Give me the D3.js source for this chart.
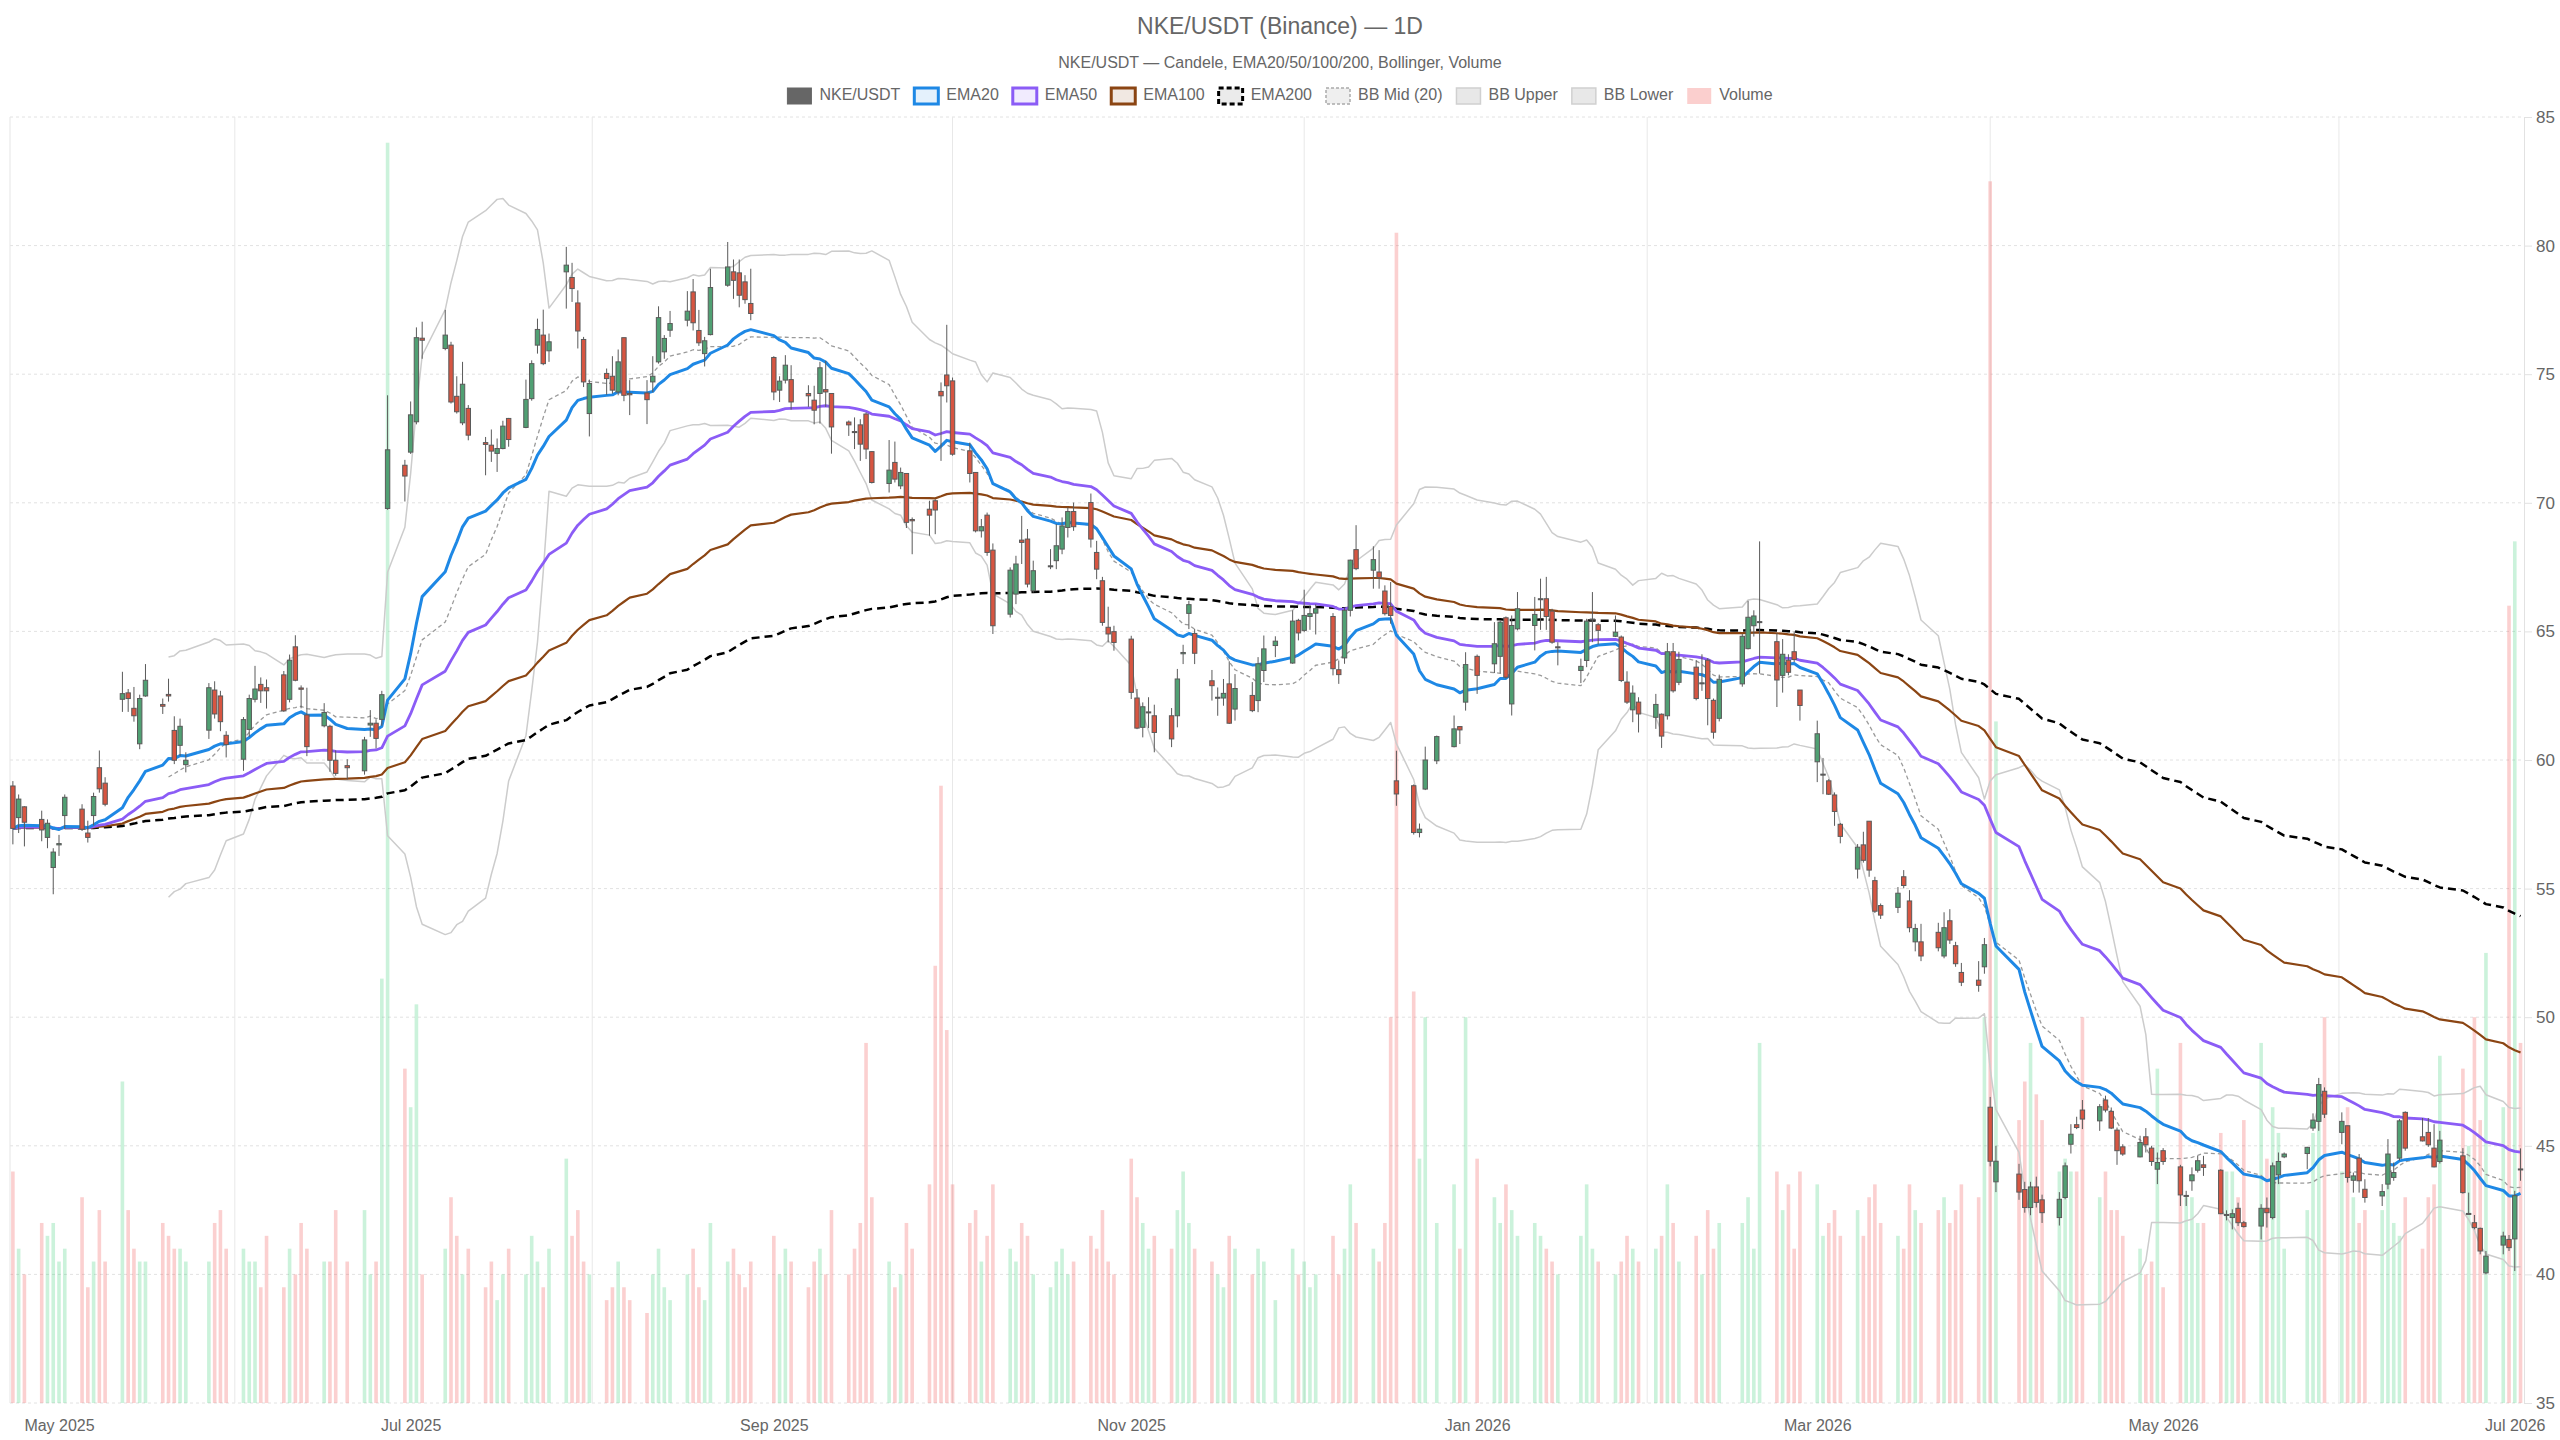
<!DOCTYPE html>
<html>
<head>
<meta charset="utf-8">
<script src="https://cdn.jsdelivr.net/npm/d3@7"></script>
<style>
  body { margin: 0; background: #fff; }
  svg { font-family: "Helvetica Neue", Helvetica, Arial, "Liberation Sans", sans-serif; }
</style>
</head>
<body>
<svg id="chart" width="2560" height="1440"></svg>
<script>

// trading days: weekdays from firstDay to lastDay, minus these holidays
var firstDay = "2025-04-23", lastDay = "2026-07-02";
var holidays = ["2025-05-26","2025-06-19","2025-07-04","2025-09-01","2025-11-27","2025-12-25",
  "2026-01-01","2026-01-19","2026-02-16","2026-04-03","2026-05-25","2026-06-19"];

var opens = [
58.99,57.76,58.18, 57.69,56.99,55.82,56.7,57.84, 58.09,57.16,57.84,59.70,59.10, 62.36,62.61,62.01,60.63,62.49,
62.16,62.55,61.15,60.57,59.82, 61.16,62.72,62.49,60.96, 60.03,61.19,62.36,62.94,62.81, 63.31,62.36,64.40,62.8,61.75,
61.33,61.31,59.99,59.78, 59.58,61.36,61.43,61.58,69.78, 71.46,71.97,73.15,76.40, 76.0,76.13,74.14,73.11,73.67,
72.34,72.24,71.92,72.11,73.28, 72.93,74.05,76.13,76.52,75.91, 78.98,78.76,77.77,76.35,73.47, 75.03,74.92,74.31,76.42,74.25,
74.27,74.70,75.48,75.87,76.71, 77.1,78.2,76.7,75.8,76.54, 78.46,78.98,78.94,78.59,77.75, 75.65,74.38,74.77,74.79,
74.25,73.99,74.25,74.40,74.25, 73.14,72.77,73.03,73.45,71.99, 70.75,71.57,70.66,71.14,69.35, 69.75,70.08,74.33,74.97,74.74,
72.02,71.18,68.91,69.52,68.16, 65.67,66.45,68.55,68.59,66.58, 67.55,67.75,68.2,69.04,69.66, 70.01,68.07,66.97,65.16,64.99,
64.70,62.41,61.27,61.87,61.72, 61.72,61.72,64.13,65.70,64.92, 63.08,62.44,62.41,62.96,61.98, 62.51,62.31,63.48,64.45,
63.77,65.43,65.04,65.58,65.71, 65.58,63.51,63.97,65.82,68.18, 67.38,67.31,66.57,65.97,59.19, 59.0,57.18,58.87,59.97,
60.52,61.30,62.25,64.03, 63.74,64.03,65.53,62.18,65.10, 65.23,66.27,66.27,65.79,64.40, 63.48,63.87,65.48,65.26,
64.81,64.78,63.03,61.95,62.25, 61.66,61.78,61.72,64.21,63.02, 63.61,63.0,63.88,62.32,61.62, 62.96,64.33,65.22,65.38,
64.60,63.29,63.88,64.21,62.72, 59.93,59.45,59.19,58.64,57.50, 55.76,56.70,57.62,55.31,54.34, 54.27,55.46,54.52,52.93,52.93,
53.30,52.38,53.75,52.78,51.74, 51.44,51.96,46.5,43.6, 43.9,43.3,42.6,43.4,42.9,
42.21,42.99,45.06,45.82,46.39, 45.97,46.78,46.34,45.61,44.96, 44.57,45.35,44.91,44.09,44.81, 44.18,43.07,43.64,44.05,44.26,
44.05,42.33,42.21,42.57,42.01, 41.88,42.57,42.21,43.87,44.57, 44.70,45.69,45.95,47.12, 45.52,45.78,43.66,44.52,43.31,
43.05,43.51,43.77,44.52,46.30, 45.35,45.52,44.91,44.39, 44.61,42.37,42.01,41.79,40.06, 41.14,41.36,41.38,44.1
];
var highs = [
59.18,58.66,58.2, 58.03,57.69,56.57,57.09,58.66, 58.28,57.64,58.73,60.37,59.33, 63.43,62.76,62.84,62.54,63.73,
62.39,63.16,61.70,61.61,60.3, 62.99,63.06,62.69,61.12, 61.67,62.54,63.66,63.21,63.13, 63.46,64.1,64.85,62.9,62.81,
62.21,61.37,60.37,60.03, 60.90,61.94,61.58,62.69,74.18, 71.67,73.94,76.82,77.04, 77.5,76.26,74.92,75.48,73.80,
72.56,72.85,72.5,73.19,73.3, 74.79,75.54,77.16,77.51,76.58, 79.95,79.33,78.26,76.45,74.79, 75.22,75.70,75.96,76.42,74.77,
74.77,75.7,77.64,76.52,77.46, 78.23,78.7,77.5,76.45,79.10, 80.14,79.46,79.46,78.85,79.1, 75.70,74.92,75.74,75.35,
74.57,74.55,75.48,75.52,74.25, 73.2,73.32,73.25,73.51,72.0, 72.44,72.38,71.37,71.14,69.43, 70.08,70.14,74.68,76.92,74.87,
72.34,71.18,69.37,69.62,68.42, 67.49,67.94,69.49,68.98,67.75, 68.2,69.17,69.43,69.82,70.01, 70.36,68.52,67.12,65.96,65.22,
64.83,62.76,62.24,62.44,62.15, 62.02,63.54,64.48,66.19,65.09, 63.50,62.82,63.15,63.84,63.34, 63.03,64.0,64.84,64.81,
65.82,65.49,66.62,66.01,66.05, 65.71,63.87,65.92,67.79,69.13, 68.31,68.16,66.79,66.92,60.36, 59.05,57.53,60.52,60.95,
61.73,61.30,64.19,64.10, 65.36,65.43,65.58,65.62,66.53, 66.34,67.05,67.12,65.88,64.58, 63.94,65.49,66.53,65.32,
65.62,64.84,63.45,62.90,62.44, 62.57,61.81,64.55,64.55,64.21, 63.88,64.11,63.96,62.39,63.32, 64.9,66.19,65.82,68.50,
64.93,64.70,64.11,65.0,62.72, 61.53,60.08,59.26,58.74,57.55, 56.73,57.21,57.62,55.46,54.42, 55.06,55.72,54.94,53.63,53.63,
53.67,54.08,54.20,52.93,52.11, 52.18,53.08,46.9,45.0, 44.3,43.6,43.6,43.8,43.1,
43.2,44.35,45.84,46.13,46.78, 46.62,46.95,46.49,45.71,45.06, 45.39,45.69,45.0,44.74,44.91, 44.26,43.25,44.16,44.61,44.61,
44.09,42.49,42.53,42.79,42.08, 42.73,42.99,44.35,44.74,44.74, 44.96,46.26,47.64,47.27, 46.30,45.78,43.96,44.68,43.70,
43.51,45.26,44.35,46.04,46.34, 46.08,46.08,45.84,45.58, 44.91,43.18,42.31,41.82,40.91, 41.66,41.53,43.25,44.9
];
var lows = [
56.72,57.16,56.64, 56.84,56.57,54.78,56.27,57.31, 57.24,56.79,57.46,58.73,58.2, 61.87,61.87,61.49,60.42,62.46,
61.79,62.27,59.84,60.15,59.52, 60.82,61.61,61.12,60.10, 59.58,60.90,62.24,62.22,62.0, 61.87,62.24,63.06,62.01,60.15,
61.27,59.54,59.39,59.24, 59.43,60.90,60.45,61.33,69.73, 70.05,71.90,73.05,75.6, 75.93,73.86,73.47,73.02,72.43,
71.07,71.59,71.2,72.08,72.18, 72.90,73.97,75.8,75.35,75.48, 77.55,77.81,76.0,74.5,72.58, 74.2,74.25,74.18,73.95,73.41,
73.06,74.3,75.41,75.6,76.45, 76.86,76.7,76.1,75.3,76.51, 78.4,77.93,77.6,77.74,77.1, 73.99,73.92,74.64,73.62,
73.73,73.05,73.08,73.73,71.91, 72.6,72.09,71.63,71.70,70.75, 70.40,70.79,70.53,69.02,68.0, 68.72,68.78,71.63,73.9,71.83,
70.79,68.85,68.65,67.94,64.90, 65.54,66.06,67.62,66.71,66.51, 67.42,67.42,68.0,68.65,68.91, 68.26,67.03,65.22,64.57,64.25,
62.37,61.20,60.88,61.24,60.30, 60.50,61.27,63.73,65.09,63.73, 62.31,61.72,62.11,61.40,61.53, 61.86,61.86,63.03,64.0,
63.74,64.65,64.97,65.06,64.88, 63.29,62.96,63.74,65.58,67.38, 66.66,66.66,65.62,65.30,58.22, 57.1,56.99,58.83,59.84,
60.49,60.62,61.92,62.57, 63.38,63.38,63.16,61.73,65.04, 64.26,65.06,65.06,64.52,63.68, 62.99,63.61,64.58,64.49,
64.78,63.03,62.18,61.47,61.07, 61.21,60.47,61.57,62.62,62.91, 62.32,62.69,61.35,60.83,61.5, 62.85,64.30,64.8,63.36,
62.06,62.62,63.29,63.81,61.53, 59.14,58.67,58.64,57.44,56.76, 55.39,56.01,55.46,54.05,53.82, 54.05,55.01,53.30,52.56,52.18,
52.56,52.29,52.85,51.96,51.21, 50.99,51.69,44.2,43.2, 42.9,42.4,42.3,42.6,42.0,
41.9,42.92,44.70,45.65,45.65, 45.58,46.30,45.65,44.26,44.61, 44.55,44.74,44.22,43.51,44.26, 42.66,42.66,43.25,43.96,43.83,
42.34,42.1,41.75,41.88,41.82, 41.36,41.82,42.14,43.51,44.52, 44.09,45.58,45.58,46.08, 45.06,43.57,43.18,43.18,42.79,
42.66,43.31,43.64,44.42,44.81, 45.17,44.96,44.16,44.31, 43.14,42.34,41.75,40.78,40.0, 40.78,40.91,40.13,43.64
];
var closes = [
57.34,58.48,57.58, 57.28,57.54,56.42,56.75,58.55, 57.31,56.99,58.58,58.88,58.28, 62.58,62.39,61.72,62.39,63.10,
62.09,62.49,59.99,61.31,59.99, 62.81,61.79,61.49,60.60, 61.57,62.39,62.76,62.69,62.69, 61.91,63.88,63.10,62.75,60.52,
61.85,59.99,59.48,59.70, 60.78,61.43,60.84,62.54,72.06, 71.04,73.42,76.42,76.32, 76.52,73.92,73.54,74.61,72.63,
72.27,72.01,72.11,72.98,72.46, 74.02,75.41,76.74,75.41,76.26, 79.24,78.33,76.68,74.70,74.64, 74.83,74.38,75.48,74.18,74.20,
74.01,74.92,77.20,76.39,76.97, 77.45,77.0,76.22,76.3,78.37, 79.17,78.65,78.07,77.9,77.36, 74.31,74.73,75.35,73.92,
74.16,73.60,75.25,74.31,72.95, 73.03,72.73,72.28,72.09,70.79, 71.27,70.92,71.18,69.24,69.30, 69.52,69.72,74.16,74.55,71.89,
71.14,68.91,69.07,68.07,65.22, 67.38,67.62,68.46,66.84,67.36, 67.55,68.33,69.1,69.66,69.07, 68.59,67.42,65.35,64.90,64.57,
62.63,61.24,62.07,61.87,61.07, 60.82,63.15,64.18,66.04,64.15, 62.89,62.44,62.59,61.43,62.78, 61.92,63.74,64.32,64.62,
65.40,64.94,65.62,65.69,65.88, 63.55,63.32,65.82,67.77,67.44, 67.79,67.09,65.69,65.62,58.68, 57.18,57.31,60.0,60.91,
61.21,61.17,63.71,63.29, 64.52,65.36,63.22,65.23,65.88, 65.66,66.27,65.58,64.58,64.40, 63.64,65.40,65.48,65.04,
64.97,63.09,62.25,62.60,61.79, 62.16,60.93,64.21,62.69,63.91, 62.39,63.0,62.39,61.08,63.14, 64.81,65.55,65.60,65.38,
63.11,64.11,63.41,63.91,62.12, 61.02,59.45,58.67,58.0,57.03, 56.61,56.10,55.72,54.12,53.97, 54.82,55.12,53.48,53.45,52.38,
52.70,53.48,53.0,52.08,51.36, 51.24,52.82,44.4,44.4, 43.2,42.6,43.4,42.8,42.4,
42.92,44.22,45.45,45.71,46.04, 46.52,46.39,45.69,44.81,44.68, 45.13,45.04,44.39,44.35,44.39, 43.09,43.07,43.87,44.42,44.16,
42.36,42.33,42.36,42.01,41.86, 42.57,42.40,44.22,44.39,44.68, 44.94,46.0,47.38,46.23, 45.95,43.77,43.83,43.64,42.99,
43.22,44.68,43.96,45.97,44.91, 45.19,45.04,44.18,45.22, 43.18,42.37,41.82,40.91,40.71, 41.49,41.04,43.06,44.08
];
// volume as share of the plot height (percent)
var volumes = [
18,12,10, 14,13,14,11,12, 16,9,11,15,11, 25,15,12,11,11, 14,13,12,12,11, 11,14,15,12, 12,11,11,9,13, 9,12,10,14,12,
11,11,15,11, 15,10,11,33,98, 26,23,31,10, 12,16,13,10,12, 9,11,8,10,12, 10,13,11,9,12, 19,13,15,11,10, 8,9,11,9,8,
7,10,12,9,8, 10,12,9,8,14, 11,12,10,9,11, 13,10,12,11, 9,11,12,10,15, 10,12,14,28,16, 11,9,10,14,12, 17,34,48,29,17,
14,15,11,13,17, 12,11,14,13,10, 9,11,12,10,11, 13,12,15,11,10, 19,16,14,12,13, 12,15,18,14,12, 11,10,9,13,12, 10,12,11,8,
12,10,11,9,10, 13,10,12,17,14, 12,11,14,30,91, 32,19,30,14, 17,12,30,19, 16,14,17,15,13, 14,13,12,11,10, 13,17,12,11,
10,11,13,12,11, 12,13,17,14,11, 13,10,15,12,14, 14,16,12,28, 18,15,17,12,18, 17,13,14,15,13, 15,13,16,17,14, 13,12,17,15,14,
15,16,14,15,17, 16,30,95,53, 22,25,28,24,22, 18,19,18,18,30, 16,18,15,15,13, 12,10,11,26,9, 28,16,16,14,14,
21,18,18,16,22, 28,19,23,21,12, 15,21,24,30, 18,23,16,14,15, 15,18,14,13,16, 12,16,17,27, 26,20,30,22,35, 23,62,67,28
];

var yTicks = [35, 40, 45, 50, 55, 60, 65, 70, 75, 80, 85];
// x labels sit on the first trading day of every second month
var monthTicks = ["2025-05-01","2025-07-01","2025-09-02","2025-11-03","2026-01-02","2026-03-02","2026-05-01","2026-07-01"];

var legendItems = [
  {name: "NKE/USDT", fill: "rgb(102,102,102)", stroke: "rgb(102,102,102)", dash: null, sw: 1},
  {name: "EMA20", fill: "rgba(30,136,229,0.12)", stroke: "#1e88e5", dash: null, sw: 3},
  {name: "EMA50", fill: "rgba(139,92,246,0.12)", stroke: "#8b5cf6", dash: null, sw: 3},
  {name: "EMA100", fill: "rgba(139,69,19,0.12)", stroke: "#8b4513", dash: null, sw: 3},
  {name: "EMA200", fill: "rgba(0,0,0,0.08)", stroke: "#000", dash: "5,3", sw: 3},
  {name: "BB Mid (20)", fill: "rgba(150,150,150,0.15)", stroke: "#aaa", dash: "3,2", sw: 1.5},
  {name: "BB Upper", fill: "rgba(180,180,180,0.3)", stroke: "#d0d0d0", dash: null, sw: 1.5},
  {name: "BB Lower", fill: "rgba(180,180,180,0.3)", stroke: "#d0d0d0", dash: null, sw: 1.5},
  {name: "Volume", fill: "rgba(239,83,80,0.28)", stroke: "rgba(239,83,80,0.0)", dash: null, sw: 0}
];

// ---- build dates
var parse = d3.utcParse("%Y-%m-%d");
var fmt = d3.utcFormat("%Y-%m-%d");
var dates = [];
d3.utcDay.range(parse(firstDay), d3.utcDay.offset(parse(lastDay), 1)).forEach(function(d){
  var wd = d.getUTCDay();
  if (wd === 0 || wd === 6) return;
  if (holidays.indexOf(fmt(d)) >= 0) return;
  dates.push(d);
});
if (dates.length !== closes.length) console.warn("dates " + dates.length + " vs closes " + closes.length);

var data = dates.map(function(d, i){
  return {date: d, o: opens[i], h: highs[i], l: lows[i], c: closes[i], v: volumes[i]};
});

function ema(vals, n){
  var k = 2 / (n + 1), out = [], prev = vals[0];
  vals.forEach(function(v, i){
    prev = i === 0 ? v : v * k + prev * (1 - k);
    out.push(prev);
  });
  return out;
}
var ema20 = ema(closes, 20), ema50 = ema(closes, 50), ema100 = ema(closes, 100), ema200 = ema(closes, 200);
var bbMid = [], bbUp = [], bbLow = [];
closes.forEach(function(c, i){
  if (i < 19) { bbMid.push(null); bbUp.push(null); bbLow.push(null); return; }
  var win = closes.slice(i - 19, i + 1);
  var m = d3.mean(win);
  var sd = Math.sqrt(d3.mean(win, function(v){ return (v - m) * (v - m); }));
  bbMid.push(m); bbUp.push(m + 2 * sd); bbLow.push(m - 2 * sd);
});

// ---- chart
var svg = d3.select("#chart");
var plotL = 10, plotR = 2524, plotT = 117, plotB = 1403;
var dayMs = 86400000;

var x = d3.scaleUtc()
  .domain([new Date(dates[0].getTime() - 0.5 * dayMs), new Date(dates[dates.length - 1].getTime() + 0.6 * dayMs)])
  .range([plotL, plotR]);
var y = d3.scaleLinear().domain([35, 85]).range([plotB, plotT]);
var yVol = d3.scaleLinear().domain([0, 100]).range([plotB, plotT]);

// title
svg.append("text").attr("x", 1280).attr("y", 28).attr("text-anchor", "middle").attr("dominant-baseline", "middle")
  .style("font-size", "23px").style("fill", "#666").text("NKE/USDT (Binance) — 1D");
svg.append("text").attr("x", 1280).attr("y", 64).attr("text-anchor", "middle").attr("dominant-baseline", "middle")
  .style("font-size", "16px").style("fill", "#666").text("NKE/USDT — Candele, EMA20/50/100/200, Bollinger, Volume");

// legend
var lg = svg.append("g");
var lx = 0;
legendItems.forEach(function(it){
  var g = lg.append("g").attr("transform", "translate(" + lx + ",0)");
  g.append("rect").attr("x", 0).attr("y", -8).attr("width", 24).attr("height", 16)
    .attr("fill", it.fill).attr("stroke", it.stroke).attr("stroke-width", it.sw)
    .attr("stroke-dasharray", it.dash);
  var t = g.append("text").attr("x", 32).attr("y", 0).attr("dominant-baseline", "middle")
    .style("font-size", "16px").style("fill", "#666").text(it.name);
  lx += 32 + t.node().getComputedTextLength() + 14;
});
lx -= 14;
lg.attr("transform", "translate(" + (1280 - lx / 2) + ",96)");

// grid: dotted price lines, solid time lines halfway between labelled ticks
var gridG = svg.append("g");
yTicks.forEach(function(t){
  gridG.append("line").attr("x1", plotL).attr("x2", plotR).attr("y1", y(t)).attr("y2", y(t))
    .attr("stroke", "#e2e2e2").attr("stroke-dasharray", "3,3");
});
var mt = monthTicks.map(parse);
for (var i = 0; i < mt.length - 1; i++) {
  var gx = (x(mt[i]) + x(mt[i + 1])) / 2;
  gridG.append("line").attr("x1", gx).attr("x2", gx).attr("y1", plotT).attr("y2", plotB).attr("stroke", "#e8e8e8");
}
gridG.append("line").attr("x1", plotL).attr("x2", plotL).attr("y1", plotT).attr("y2", plotB).attr("stroke", "#e5e5e5");

// y axis on the right
var yAxis = d3.axisRight(y).tickValues(yTicks).tickSize(8).tickPadding(4);
var ya = svg.append("g").attr("transform", "translate(" + plotR + ",0)").call(yAxis);
ya.select(".domain").attr("stroke", "#e2e2e2");
ya.selectAll(".tick line").attr("stroke", "#e2e2e2");
ya.selectAll("text").style("font-size", "17px").style("fill", "#666").style("font-family", "inherit");

// x labels
var xAxis = d3.axisBottom(x).tickValues(mt).tickSize(0).tickPadding(17).tickFormat(d3.utcFormat("%b %Y"));
var xa = svg.append("g").attr("transform", "translate(0," + plotB + ")").call(xAxis);
xa.select(".domain").remove();
xa.selectAll("text").style("font-size", "16px").style("fill", "#666").style("font-family", "inherit");

// volume bars
svg.append("g").selectAll("rect").data(data).enter().append("rect")
  .attr("x", function(d){ return x(d.date) - 1.8; })
  .attr("width", 3.6)
  .attr("y", function(d){ return yVol(d.v); })
  .attr("height", function(d){ return plotB - yVol(d.v); })
  .attr("fill", function(d){ return d.c >= d.o ? "rgba(46,204,113,0.25)" : "rgba(239,83,80,0.27)"; });

// indicator lines
function drawLine(vals, color, width, dash){
  var line = d3.line()
    .defined(function(d){ return d.v !== null; })
    .x(function(d){ return x(d.date); })
    .y(function(d){ return y(d.v); });
  svg.append("path")
    .datum(dates.map(function(d, i){ return {date: d, v: vals[i]}; }))
    .attr("d", line).attr("fill", "none")
    .attr("stroke", color).attr("stroke-width", width)
    .attr("stroke-dasharray", dash).attr("stroke-linejoin", "round");
}
drawLine(bbUp, "#cccccc", 1.5, null);
drawLine(bbLow, "#cccccc", 1.5, null);
drawLine(bbMid, "#9a9a9a", 1.3, "4,3");
drawLine(ema200, "#000000", 2.5, "8,5");
drawLine(ema100, "#8b4513", 2.2, null);
drawLine(ema50, "#8b5cf6", 2.8, null);
drawLine(ema20, "#1e88e5", 3, null);

// candles
var cg = svg.append("g").selectAll("g").data(data).enter().append("g");
cg.append("line")
  .attr("x1", function(d){ return x(d.date); }).attr("x2", function(d){ return x(d.date); })
  .attr("y1", function(d){ return y(d.h); }).attr("y2", function(d){ return y(d.l); })
  .attr("stroke", "rgb(90,90,90)").attr("stroke-width", 1);
cg.append("rect")
  .attr("x", function(d){ return x(d.date) - 2.2; })
  .attr("width", 4.4)
  .attr("y", function(d){ return y(Math.max(d.o, d.c)); })
  .attr("height", function(d){ return Math.max(1, Math.abs(y(d.o) - y(d.c))); })
  .attr("fill", function(d){
    if (d.c > d.o) return "rgb(80,160,115)";
    if (d.c < d.o) return "rgb(215,85,65)";
    return "rgb(90,90,90)";
  })
  .attr("stroke", "rgb(90,90,90)").attr("stroke-width", 1);

</script>
</body>
</html>
